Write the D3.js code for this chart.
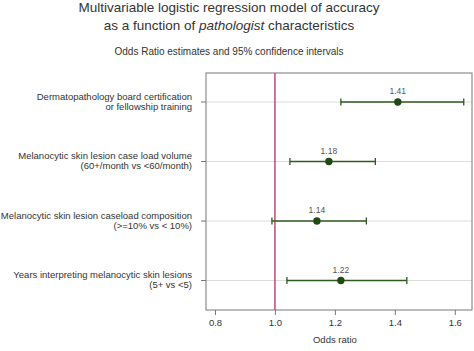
<!DOCTYPE html>
<html>
<head>
<meta charset="utf-8">
<script src="https://cdn.jsdelivr.net/npm/d3@7"></script>
<style>
  body { margin: 0; background: #fff; }
  text { font-family: "Liberation Sans", Arial, sans-serif; fill: #333; }
</style>
</head>
<body>
<div id="chart"></div>
<script>
// Row labels (two lines each)
const labelLine1 = [
    "Dermatopathology board certification",
    "Melanocytic skin lesion case load volume",
    "Melanocytic skin lesion caseload composition",
    "Years interpreting melanocytic skin lesions"
];
const labelLine2 = [
    "or fellowship training",
    "(60+/month vs <60/month)",
    "(>=10% vs < 10%)",
    "(5+ vs <5)"
];
const estimates = [1.41, 1.18, 1.14, 1.22];
const lowerCI = [1.22, 1.05, 0.99, 1.04];
const upperCI = [1.63, 1.335, 1.305, 1.44];
const xTicks = [0.8, 1.0, 1.2, 1.4, 1.6];

const width = 474, height = 351;
const margin = { top: 73, right: 2, bottom: 41, left: 206 };

const svg = d3.select("#chart").append("svg")
    .attr("width", width)
    .attr("height", height);

const x = d3.scaleLinear()
    .domain([0.77, 1.6575])
    .range([margin.left, width - margin.right]);

const y = d3.scalePoint()
    .domain(d3.range(labelLine1.length))
    .range([102, 280.5]);

// Titles
svg.append("text")
    .attr("x", 229).attr("y", 12)
    .attr("text-anchor", "middle")
    .style("font-size", "13.5px")
    .text("Multivariable logistic regression model of accuracy");

let t2 = svg.append("text")
    .attr("x", 229).attr("y", 30)
    .attr("text-anchor", "middle")
    .style("font-size", "13.5px");
t2.append("tspan").text("as a function of ");
t2.append("tspan").style("font-style", "italic").text("pathologist");
t2.append("tspan").text(" characteristics");

svg.append("text")
    .attr("x", 229).attr("y", 55)
    .attr("text-anchor", "middle")
    .style("font-size", "10px")
    .text("Odds Ratio estimates and 95% confidence intervals");

// Grid lines
svg.append("g").selectAll("line")
    .data(y.domain())
    .join("line")
    .attr("x1", margin.left).attr("x2", width - margin.right)
    .attr("y1", d => y(d)).attr("y2", d => y(d))
    .attr("stroke", "#dcdcdc")
    .attr("stroke-width", 1);

// Reference line at 1
svg.append("line")
    .attr("x1", x(1)).attr("x2", x(1))
    .attr("y1", margin.top).attr("y2", height - margin.bottom)
    .attr("stroke", "#b03060")
    .attr("stroke-width", 1.3);

// Plot frame
svg.append("rect")
    .attr("x", margin.left).attr("y", margin.top)
    .attr("width", width - margin.right - margin.left)
    .attr("height", height - margin.bottom - margin.top)
    .attr("fill", "none")
    .attr("stroke", "#777")
    .attr("stroke-width", 1);

// X axis
const xAxis = svg.append("g")
    .attr("transform", `translate(0,${height - margin.bottom})`)
    .call(d3.axisBottom(x).tickValues(xTicks).tickFormat(d3.format(".1f")).tickSize(5).tickPadding(4));
xAxis.select(".domain").remove();
xAxis.selectAll("line").attr("stroke", "#777");
xAxis.selectAll("text").style("font-size", "9.5px").attr("fill", "#333")
    .style("font-family", "Liberation Sans, Arial, sans-serif");

svg.append("text")
    .attr("x", x(1.2)).attr("y", 343)
    .attr("text-anchor", "middle")
    .style("font-size", "9.5px")
    .text("Odds ratio");

// Y ticks and labels
const rows = svg.append("g").selectAll("g")
    .data(y.domain())
    .join("g")
    .attr("transform", d => `translate(0,${y(d)})`);

rows.append("line")
    .attr("x1", margin.left - 5).attr("x2", margin.left)
    .attr("stroke", "#777");

rows.append("text")
    .attr("x", 192).attr("y", -2.5)
    .attr("text-anchor", "end")
    .style("font-size", "9.5px")
    .text(d => labelLine1[d]);

rows.append("text")
    .attr("x", 192).attr("y", 7.5)
    .attr("text-anchor", "end")
    .style("font-size", "9.5px")
    .text(d => labelLine2[d]);

// Confidence intervals
const green = "#2e5a1c";
rows.append("line")
    .attr("x1", d => x(lowerCI[d])).attr("x2", d => x(upperCI[d]))
    .attr("stroke", green).attr("stroke-width", 1.3);
rows.append("line")
    .attr("x1", d => x(lowerCI[d])).attr("x2", d => x(lowerCI[d]))
    .attr("y1", -3.5).attr("y2", 3.5)
    .attr("stroke", green).attr("stroke-width", 1.3);
rows.append("line")
    .attr("x1", d => x(upperCI[d])).attr("x2", d => x(upperCI[d]))
    .attr("y1", -3.5).attr("y2", 3.5)
    .attr("stroke", green).attr("stroke-width", 1.3);

rows.append("circle")
    .attr("cx", d => x(estimates[d]))
    .attr("r", 3.7)
    .attr("fill", "#1f4a12");

rows.append("text")
    .attr("x", d => x(estimates[d])).attr("y", -8)
    .attr("text-anchor", "middle")
    .style("font-size", "8.5px")
    .style("fill", "#555")
    .text(d => estimates[d].toFixed(2));
</script>
</body>
</html>
